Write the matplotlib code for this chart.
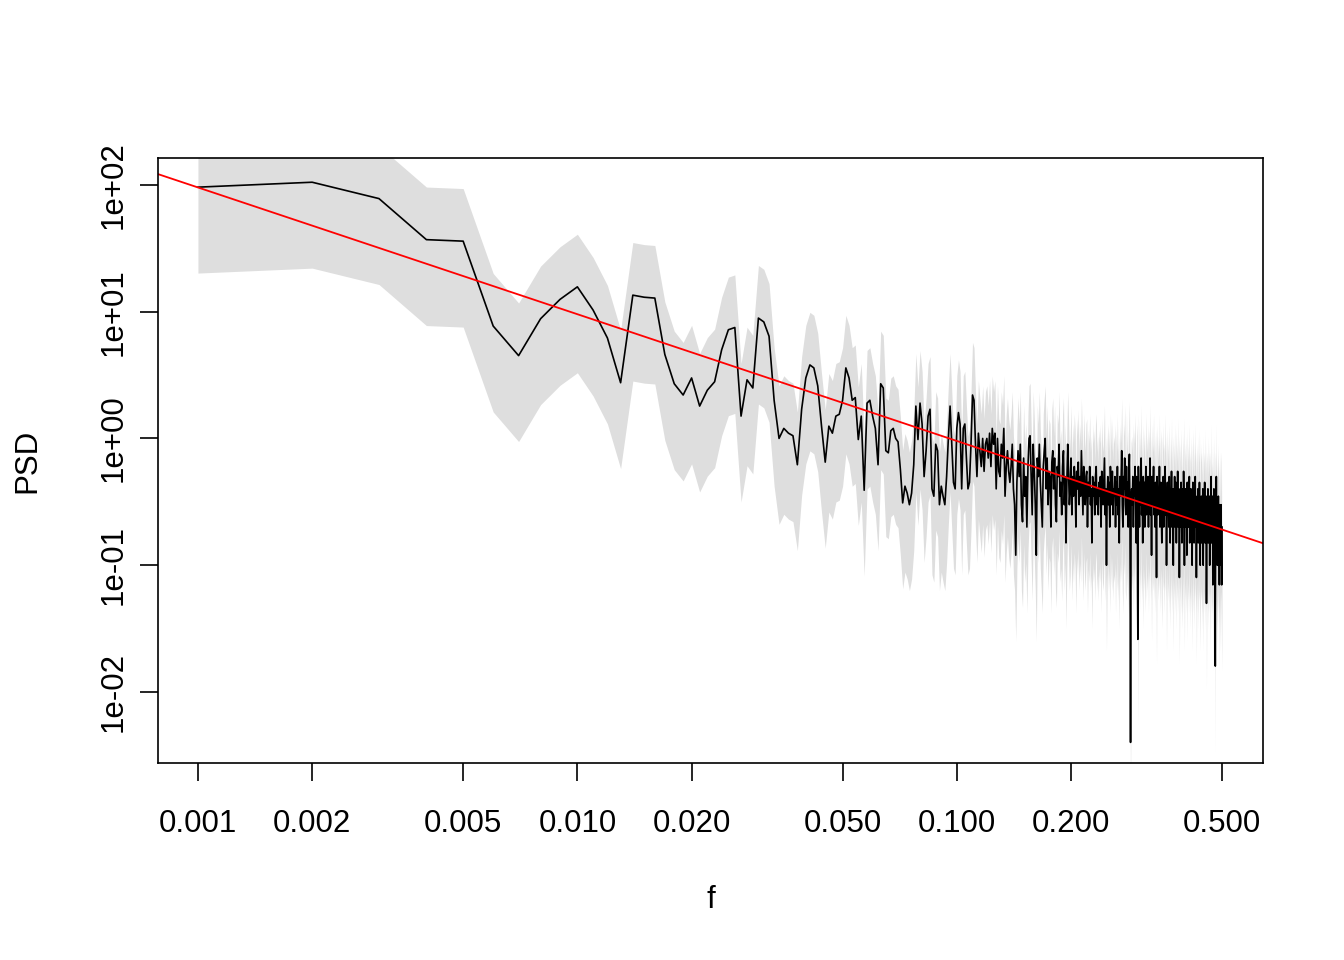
import numpy as np
import matplotlib.pyplot as plt

plt.rcParams["font.family"] = "Liberation Sans"

# frequencies 0.001 .. 0.500
freq = np.arange(1, 501) / 1000.0

# PSD
psd = [
    96, 105, 78, 37, 36, 7.7, 4.5, 8.8, 12.5, 15.7,
    10.3, 6.2, 2.75, 13.5, 13, 12.8, 4.6, 2.7, 2.2, 3.0,
    1.8, 2.4, 2.8, 5.0, 7.2, 7.5, 1.5, 2.9, 2.5, 8.9,
    8.3, 6.4, 2.0, 1.0, 1.2, 1.1, 1.05, 0.62, 1.7, 3.0,
    3.8, 3.6, 2.6, 1.25, 0.65, 1.25, 1.1, 1.5, 1.55, 2.0,
    3.6, 3.0, 2.0, 2.1, 0.98, 1.5, 0.39, 1.9, 2.0, 1.5,
    1.2, 0.62, 2.7, 2.5, 0.8, 0.77, 1.15, 1.2, 1.0, 0.94,
    0.57, 0.31, 0.42, 0.37, 0.3, 0.37, 0.62, 1.8, 0.98,
    1.9, 1.3, 0.5, 0.8, 1.5, 1.7, 0.4, 0.35, 0.9, 0.8,
    0.3, 0.42, 0.35, 0.3, 0.5, 1.0, 1.8, 0.9, 0.45, 0.4,
    1.2, 1.6, 1.3, 0.4, 1.2, 1.3, 0.7, 0.4, 0.45, 0.9,
    2.2, 2.0, 0.9, 0.5, 1.1, 0.8, 0.6, 1.0, 0.55, 0.9,
    1.0, 0.7, 1.1, 0.6, 1.2, 0.9, 1.1, 0.4, 1.0, 0.55,
    0.5, 0.9, 0.7, 1.2, 0.35, 0.6, 0.8, 0.55, 0.45, 0.6,
    0.9, 0.4, 0.3, 0.12, 0.45, 0.8, 0.5, 0.9, 0.3, 0.22,
    0.7, 0.35, 0.5, 0.2, 0.6, 1.0, 1.05, 0.5, 0.25, 0.9,
    0.55, 0.3, 0.12, 0.7, 0.5, 0.9, 0.45, 0.3, 0.2, 0.6,
    0.8, 1.0, 0.4, 0.7, 0.3, 0.55, 0.5, 0.2, 0.65, 0.8,
    0.4, 0.7, 0.3, 0.22, 0.6, 0.5, 0.9, 0.35, 0.45, 0.25,
    0.6, 0.8, 0.3, 0.5, 0.15, 0.45, 0.9, 0.55, 0.3, 0.4,
    0.7, 0.25, 0.5, 0.35, 0.6, 0.45, 0.2, 0.55, 0.4, 0.65,
    0.3, 0.5, 0.35, 0.8, 0.45, 0.25, 0.6, 0.4, 0.3, 0.5,
    0.55, 0.2, 0.45, 0.35, 0.6, 0.3, 0.4, 0.15, 0.5, 0.35,
    0.45, 0.25, 0.5, 0.6, 0.3, 0.4, 0.25, 0.45, 0.35, 0.5,
    0.2, 0.55, 0.35, 0.3, 0.45, 0.7, 0.25, 0.4, 0.1, 0.35,
    0.5, 0.3, 0.45, 0.2, 0.6, 0.4, 0.3, 0.55, 0.25, 0.4,
    0.35, 0.5, 0.2, 0.45, 0.3, 0.6, 0.25, 0.4, 0.15, 0.5,
    0.35, 0.45, 0.8, 0.3, 0.2, 0.5, 0.4, 0.7, 0.3, 0.25,
    0.6, 0.3, 0.45, 0.2, 0.5, 0.75, 0.25, 0.004, 0.35, 0.4,
    0.3, 0.5, 0.2, 0.45, 0.35, 0.6, 0.3, 0.15, 0.5, 0.4,
    0.026, 0.6, 0.35, 0.2, 0.45, 0.3, 0.7, 0.25, 0.4, 0.15,
    0.5, 0.3, 0.45, 0.2, 0.35, 0.6, 0.25, 0.4, 0.3, 0.5,
    0.2, 0.45, 0.35, 0.7, 0.25, 0.4, 0.12, 0.5, 0.3, 0.35,
    0.6, 0.25, 0.4, 0.2, 0.45, 0.3, 0.08, 0.5, 0.35, 0.25,
    0.4, 0.3, 0.6, 0.2, 0.35, 0.45, 0.25, 0.15, 0.4, 0.3,
    0.5, 0.2, 0.35, 0.3, 0.6, 0.25, 0.4, 0.1, 0.3, 0.45,
    0.25, 0.35, 0.2, 0.5, 0.3, 0.15, 0.4, 0.25, 0.55, 0.2,
    0.3, 0.4, 0.1, 0.35, 0.25, 0.5, 0.2, 0.3, 0.45, 0.15,
    0.35, 0.25, 0.55, 0.2, 0.3, 0.4, 0.08, 0.25, 0.35, 0.2,
    0.45, 0.3, 0.15, 0.25, 0.4, 0.2, 0.55, 0.3, 0.1, 0.35,
    0.25, 0.4, 0.2, 0.3, 0.12, 0.45, 0.25, 0.35, 0.2, 0.3,
    0.5, 0.15, 0.3, 0.25, 0.4, 0.2, 0.35, 0.1, 0.3, 0.45,
    0.2, 0.3, 0.15, 0.35, 0.25, 0.5, 0.2, 0.3, 0.08, 0.25,
    0.35, 0.2, 0.4, 0.15, 0.3, 0.25, 0.45, 0.2, 0.1, 0.3,
    0.25, 0.35, 0.15, 0.3, 0.2, 0.4, 0.1, 0.25, 0.3, 0.2,
    0.45, 0.15, 0.3, 0.2, 0.35, 0.05, 0.25, 0.3, 0.2, 0.4,
    0.15, 0.3, 0.2, 0.35, 0.1, 0.25, 0.3, 0.2, 0.5, 0.15,
    0.25, 0.2, 0.35, 0.07, 0.3, 0.2, 0.4, 0.15, 0.25, 0.3,
    0.016, 0.3, 0.2, 0.5, 0.15, 0.25, 0.1, 0.3, 0.2, 0.35,
    0.15, 0.25, 0.07, 0.3, 0.2, 0.1, 0.25, 0.3, 0.15, 0.07,
    0.2,
]
psd = np.array(psd)

# confidence band factors (lower / upper)
ci_low = 0.21
ci_high = 2.6

# power-law fit  PSD = amp * f^slope
fit_amp = 0.0955
fit_slope = -1.0

xticks = [0.001, 0.002, 0.005, 0.010, 0.020, 0.050, 0.100, 0.200, 0.500]
yticks = [1e-2, 1e-1, 1e0, 1e1, 1e2]
ytick_labels = ["1e-02", "1e-01", "1e+00", "1e+01", "1e+02"]

fig = plt.figure(figsize=(13.44, 9.6), dpi=100)
ax = fig.add_axes([0.1176, 0.2052, 0.8221, 0.6302])
ax.set_xscale("log")
ax.set_yscale("log")
ax.set_xlim(0.000785, 0.641)
ax.set_ylim(0.00275, 163)

ax.fill_between(freq, psd * ci_low, psd * ci_high, color="#dedede", lw=0)
ax.plot(freq, psd, color="black", lw=1.2)
fx = np.array(ax.get_xlim())
ax.plot(fx, fit_amp * fx ** fit_slope, color="red", lw=1.3)

ax.set_xticks(xticks)
ax.set_xticklabels(["%.3f" % t for t in xticks])
ax.set_yticks(yticks)
ax.set_yticklabels(ytick_labels, rotation=90, va="center")
ax.minorticks_off()
ax.tick_params(labelsize=22.5, length=13, width=1.2, direction="out")
ax.tick_params(axis="x", pad=20)
ax.tick_params(axis="y", pad=8)
for s in ax.spines.values():
    s.set_linewidth(1.2)

ax.set_xlabel("f", fontsize=22.5, labelpad=33)
ax.set_ylabel("PSD", fontsize=22.5, labelpad=41)

fig.savefig("out.png", dpi=100)
